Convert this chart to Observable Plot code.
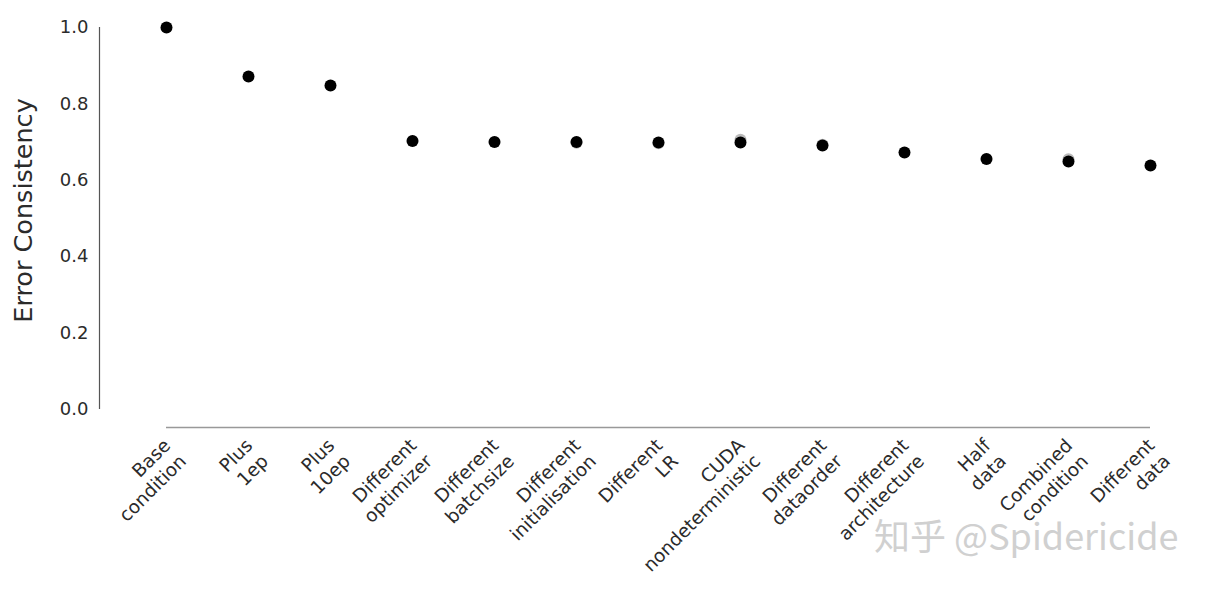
<!DOCTYPE html>
<html>
<head>
<meta charset="utf-8">
<script src="https://cdn.jsdelivr.net/npm/d3@7"></script>
<script src="https://cdn.jsdelivr.net/npm/@observablehq/plot@0.6"></script>
<style>
  html, body { margin: 0; padding: 0; background: #fff; }
  #chart { width: 1208px; height: 590px; }
</style>
</head>
<body>
<div id="chart"></div>
<script>
// ---- data ----
const categories = [
  "Base\ncondition", "Plus\n1ep", "Plus\n10ep", "Different\noptimizer",
  "Different\nbatchsize", "Different\ninitialisation", "Different\nLR",
  "CUDA\nnondeterministic", "Different\ndataorder", "Different\narchitecture",
  "Half\ndata", "Combined\ncondition", "Different\ndata"
];
const meanValues = [1.0, 0.872, 0.848, 0.703, 0.700, 0.700, 0.699, 0.699, 0.691, 0.673, 0.656, 0.649, 0.639];
// faint grey points visible behind a few of the black ones
const greyCategories = ["Different\ninitialisation", "Different\nLR", "CUDA\nnondeterministic", "Different\ndataorder", "Combined\ncondition"];
const greyValues = [0.698, 0.697, 0.706, 0.693, 0.655];
const yTicks = [0, 0.2, 0.4, 0.6, 0.8, 1.0];
const yLabel = "Error Consistency";
const watermark = "知乎 @Spidericide";

const points = categories.map((c, i) => ({cat: c, value: meanValues[i]}));
const greyPoints = greyCategories.map((c, i) => ({cat: c, value: greyValues[i]}));
const firstCat = categories[0];
const lastCat = categories[categories.length - 1];

const FONT = "DejaVu Sans";
const tickFont = 18.5;

const chart = Plot.plot({
  width: 1208,
  height: 590,
  marginLeft: 98,
  marginRight: 57,
  marginTop: 27,
  marginBottom: 181,
  style: {fontFamily: FONT, background: "#fff"},
  x: {type: "point", domain: categories, padding: 0, insetLeft: 67, axis: null},
  y: {domain: [0, 1], axis: null},
  marks: [
    // y axis spine
    Plot.ruleX([firstCat], {x: (d) => d, y1: 0, y2: 1, dx: -67, stroke: "#555", strokeWidth: 1.2}),
    // trimmed, offset x axis spine
    Plot.ruleY([0], {y: (d) => d, x1: () => firstCat, x2: () => lastCat, dy: 18, stroke: "#999", strokeWidth: 1.5}),
    Plot.axisY({ticks: yTicks, tickFormat: d3.format(".1f"), tickSize: 0, tickPadding: 10, fontSize: 18, fill: "#2b2b2b", label: null}),
    Plot.text([yLabel], {frameAnchor: "left", rotate: -90, dx: -75, dy: -8, fontSize: 25.5, fill: "#2b2b2b", textAnchor: "middle", lineAnchor: "middle"}),
    // rotated, right-aligned two-line category labels
    Plot.text(categories, {
      x: (d) => d,
      text: (d) => d,
      frameAnchor: "bottom",
      rotate: -45,
      textAnchor: "end",
      lineAnchor: "top",
      lineHeight: 1.2,
      fontSize: tickFont,
      fill: "#2b2b2b",
      dx: -6,
      dy: 26
    }),
    Plot.dot(greyPoints, {x: "cat", y: "value", r: 6, fill: "#bbb"}),
    Plot.dot(points, {x: "cat", y: "value", r: 6, fill: "black"}),
    Plot.text([watermark], {frameAnchor: "bottom-right", textAnchor: "end", lineAnchor: "middle", dx: 27, dy: 129, fontSize: 36, fill: "#d0d0d0", fontFamily: "Noto Sans CJK SC"})
  ]
});
document.getElementById("chart").appendChild(chart);
</script>
</body>
</html>
